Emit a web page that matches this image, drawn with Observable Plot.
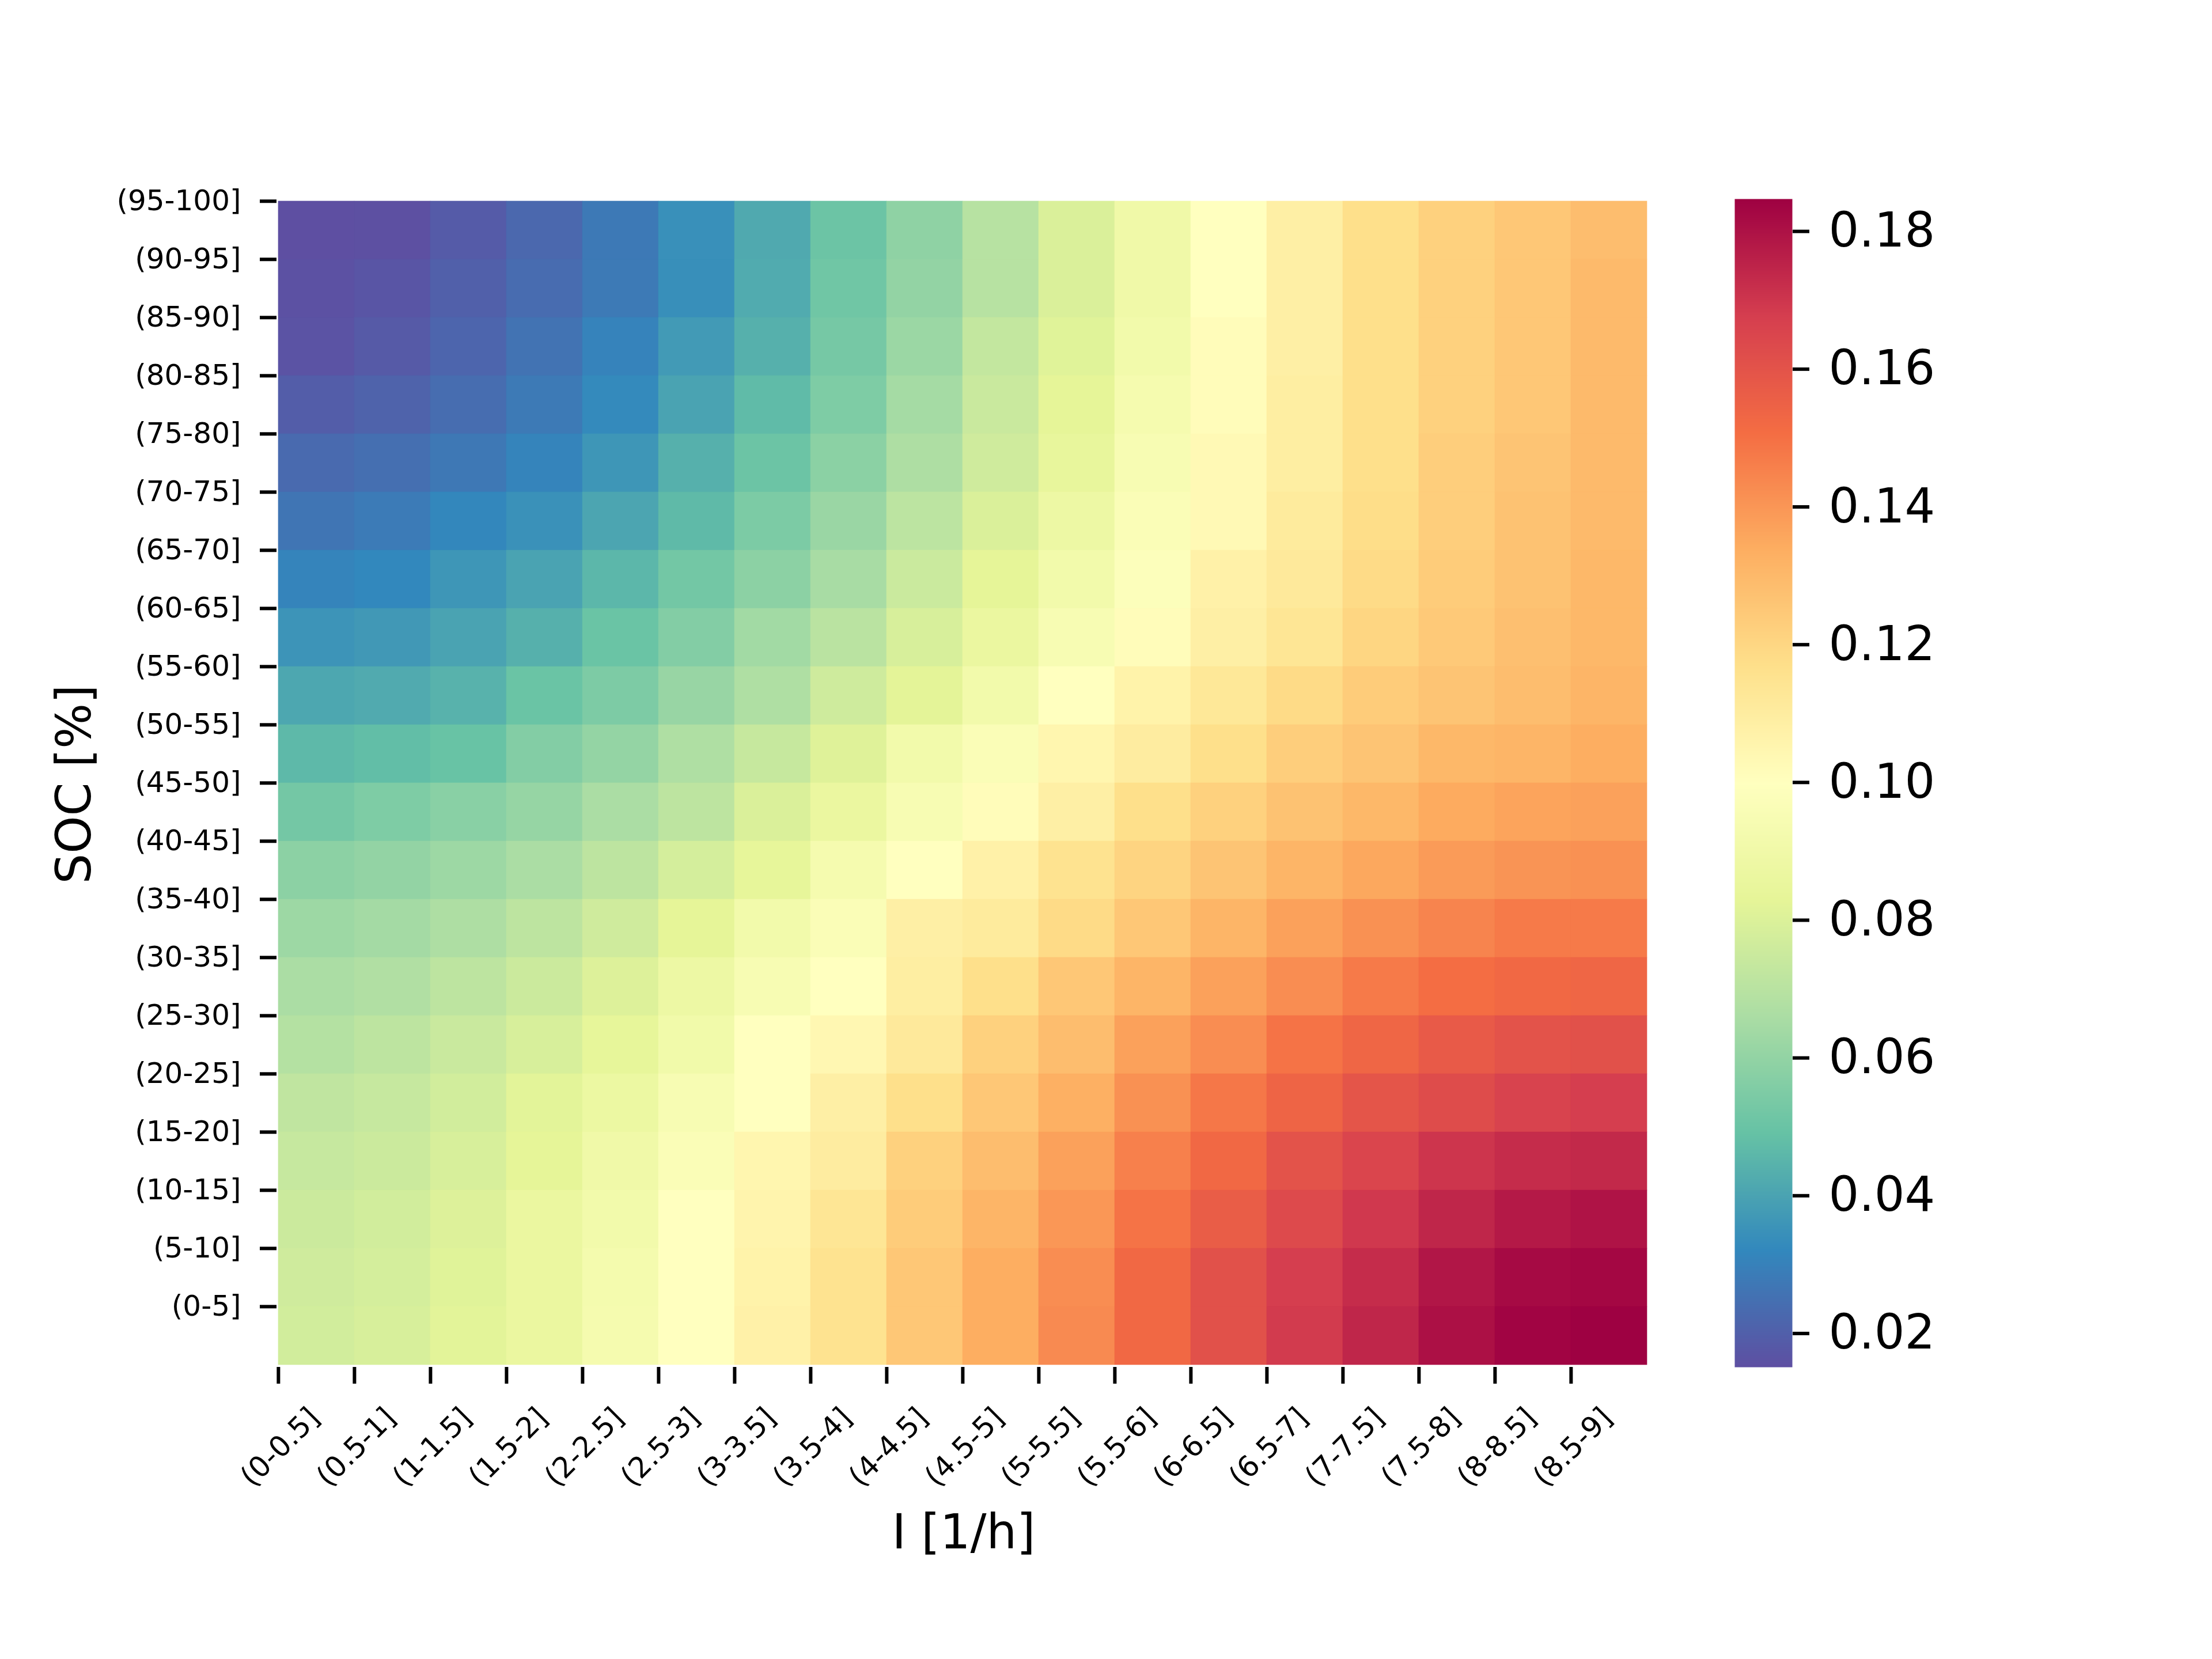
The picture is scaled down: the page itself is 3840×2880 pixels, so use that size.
<!DOCTYPE html>
<html>
<head>
<meta charset="utf-8">
<script src="https://cdn.jsdelivr.net/npm/d3@7"></script>
<script src="https://cdn.jsdelivr.net/npm/@observablehq/plot@0.6"></script>
<style>
html, body { margin: 0; padding: 0; background: #fff; }
#chart { position: relative; width: 3840px; height: 2880px; overflow: hidden; background: #fff; }
#chart svg { position: absolute; top: 0; }
</style>
</head>
<body>
<div id="chart"></div>
<script>
// ---- categories ----
const iLabels = ["(0-0.5]", "(0.5-1]", "(1-1.5]", "(1.5-2]", "(2-2.5]", "(2.5-3]", "(3-3.5]", "(3.5-4]", "(4-4.5]",
                 "(4.5-5]", "(5-5.5]", "(5.5-6]", "(6-6.5]", "(6.5-7]", "(7-7.5]", "(7.5-8]", "(8-8.5]", "(8.5-9]"];
const socLabels = ["(95-100]", "(90-95]", "(85-90]", "(80-85]", "(75-80]", "(70-75]", "(65-70]", "(60-65]", "(55-60]", "(50-55]",
                   "(45-50]", "(40-45]", "(35-40]", "(30-35]", "(25-30]", "(20-25]", "(15-20]", "(10-15]", "(5-10]", "(0-5]"];

// ---- values, one row per SOC bin (columns follow iLabels) ----
const soc_95_100 = [0.0151, 0.0154, 0.0187, 0.0226, 0.0277, 0.0344, 0.0417, 0.0505, 0.0590, 0.0694, 0.0795, 0.0897, 0.0999, 0.1084, 0.1169, 0.1220, 0.1253, 0.1287];
const soc_90_95  = [0.0158, 0.0170, 0.0202, 0.0237, 0.0278, 0.0341, 0.0422, 0.0516, 0.0600, 0.0694, 0.0795, 0.0897, 0.0999, 0.1084, 0.1169, 0.1220, 0.1253, 0.1296];
const soc_85_90  = [0.0163, 0.0183, 0.0217, 0.0258, 0.0305, 0.0373, 0.0438, 0.0529, 0.0621, 0.0728, 0.0812, 0.0914, 0.1016, 0.1084, 0.1169, 0.1220, 0.1253, 0.1296];
const soc_80_85  = [0.0193, 0.0210, 0.0241, 0.0278, 0.0326, 0.0400, 0.0470, 0.0550, 0.0645, 0.0745, 0.0829, 0.0931, 0.1016, 0.1092, 0.1169, 0.1220, 0.1253, 0.1296];
const soc_75_80  = [0.0231, 0.0246, 0.0273, 0.0309, 0.0361, 0.0438, 0.0505, 0.0582, 0.0667, 0.0762, 0.0846, 0.0948, 0.1033, 0.1092, 0.1169, 0.1228, 0.1262, 0.1296];
const soc_70_75  = [0.0265, 0.0282, 0.0317, 0.0348, 0.0405, 0.0466, 0.0544, 0.0617, 0.0709, 0.0795, 0.0880, 0.0965, 0.1033, 0.1109, 0.1177, 0.1228, 0.1270, 0.1296];
const soc_65_70  = [0.0309, 0.0321, 0.0361, 0.0400, 0.0458, 0.0522, 0.0583, 0.0653, 0.0750, 0.0829, 0.0914, 0.0982, 0.1075, 0.1118, 0.1186, 0.1236, 0.1270, 0.1304];
const soc_60_65  = [0.0356, 0.0368, 0.0400, 0.0438, 0.0500, 0.0561, 0.0638, 0.0702, 0.0787, 0.0863, 0.0948, 0.1016, 0.1084, 0.1135, 0.1203, 0.1245, 0.1279, 0.1304];
const soc_55_60  = [0.0410, 0.0421, 0.0443, 0.0500, 0.0546, 0.0612, 0.0672, 0.0760, 0.0824, 0.0914, 0.0999, 0.1067, 0.1126, 0.1186, 0.1236, 0.1262, 0.1287, 0.1313];
const soc_50_55  = [0.0465, 0.0478, 0.0495, 0.0561, 0.0604, 0.0672, 0.0738, 0.0809, 0.0914, 0.0965, 0.1050, 0.1101, 0.1169, 0.1228, 0.1262, 0.1304, 0.1313, 0.1338];
const soc_45_50  = [0.0524, 0.0550, 0.0575, 0.0609, 0.0660, 0.0711, 0.0795, 0.0863, 0.0948, 0.1016, 0.1084, 0.1169, 0.1220, 0.1270, 0.1304, 0.1347, 0.1364, 0.1372];
const soc_40_45  = [0.0583, 0.0600, 0.0626, 0.0660, 0.0711, 0.0779, 0.0838, 0.0931, 0.0999, 0.1075, 0.1152, 0.1211, 0.1262, 0.1313, 0.1355, 0.1389, 0.1406, 0.1415];
const soc_35_40  = [0.0626, 0.0643, 0.0668, 0.0711, 0.0762, 0.0829, 0.0914, 0.0965, 0.1084, 0.1109, 0.1186, 0.1253, 0.1313, 0.1372, 0.1415, 0.1448, 0.1474, 0.1474];
const soc_30_35  = [0.0660, 0.0677, 0.0711, 0.0753, 0.0804, 0.0880, 0.0948, 0.0999, 0.1092, 0.1169, 0.1253, 0.1313, 0.1372, 0.1423, 0.1474, 0.1508, 0.1525, 0.1533];
const soc_25_30  = [0.0685, 0.0711, 0.0745, 0.0787, 0.0838, 0.0906, 0.0999, 0.1041, 0.1118, 0.1220, 0.1287, 0.1372, 0.1423, 0.1491, 0.1533, 0.1576, 0.1601, 0.1610];
const soc_20_25  = [0.0719, 0.0736, 0.0770, 0.0821, 0.0872, 0.0948, 0.0999, 0.1084, 0.1169, 0.1253, 0.1330, 0.1415, 0.1482, 0.1542, 0.1593, 0.1627, 0.1660, 0.1677];
const soc_15_20  = [0.0736, 0.0753, 0.0787, 0.0829, 0.0897, 0.0965, 0.1050, 0.1101, 0.1220, 0.1287, 0.1372, 0.1457, 0.1525, 0.1601, 0.1652, 0.1703, 0.1728, 0.1737];
const soc_10_15  = [0.0753, 0.0770, 0.0804, 0.0863, 0.0914, 0.0999, 0.1058, 0.1135, 0.1236, 0.1313, 0.1398, 0.1491, 0.1567, 0.1635, 0.1694, 0.1745, 0.1779, 0.1796];
const soc_5_10   = [0.0762, 0.0779, 0.0812, 0.0863, 0.0923, 0.0999, 0.1067, 0.1152, 0.1253, 0.1338, 0.1423, 0.1525, 0.1610, 0.1677, 0.1728, 0.1788, 0.1822, 0.1830];
const soc_0_5    = [0.0770, 0.0787, 0.0821, 0.0863, 0.0931, 0.0999, 0.1075, 0.1152, 0.1253, 0.1338, 0.1431, 0.1525, 0.1610, 0.1686, 0.1745, 0.1805, 0.1839, 0.1847];

// ---- colour bar ----
const colorDomain = [0.0151, 0.1847];
const colorbarTicks = [0.02, 0.04, 0.06, 0.08, 0.10, 0.12, 0.14, 0.16, 0.18];
const spectralR = ["#5e4fa2", "#3288bd", "#66c2a5", "#abdda4", "#e6f598", "#ffffbf",
                   "#fee08b", "#fdae61", "#f46d43", "#d53e4f", "#9e0142"];

// ---- build table ----
const socRows = [soc_95_100, soc_90_95, soc_85_90, soc_80_85, soc_75_80, soc_70_75, soc_65_70, soc_60_65,
                 soc_55_60, soc_50_55, soc_45_50, soc_40_45, soc_35_40, soc_30_35, soc_25_30, soc_20_25,
                 soc_15_20, soc_10_15, soc_5_10, soc_0_5];
const table = socLabels.flatMap((s, r) => socRows[r].map((v, c) => ({SOC: s, I: iLabels[c], v})));

const W = 3840, H = 2880, mL = 480, mR = 979, mT = 345, mB = 507;
const cw = (W - mL - mR) / iLabels.length;
const ch = (H - mT - mB) / socLabels.length;
const stops = spectralR.map((_, i) => colorDomain[0] + i * (colorDomain[1] - colorDomain[0]) / (spectralR.length - 1));
const colorScale = {type: "linear", domain: stops, range: spectralR, interpolate: "rgb", clamp: true};
const font = {fontFamily: "DejaVu Sans", background: "transparent", color: "black"};

const main = Plot.plot({
  width: W, height: H,
  marginLeft: mL, marginRight: mR, marginTop: mT, marginBottom: mB,
  style: font,
  x: {type: "band", domain: iLabels, padding: 0},
  y: {type: "band", domain: socLabels, padding: 0},
  color: colorScale,
  marks: [
    Plot.cell(table, {x: "I", y: "SOC", fill: "v", stroke: "v", strokeWidth: 0.6, inset: 0}),
    Plot.axisY({tickSize: 29, tickPadding: 33, dy: -ch / 2, fontSize: 50, strokeWidth: 6, label: null}),
    Plot.axisX({tickSize: 29, dx: -cw / 2, strokeWidth: 6, tickFormat: () => "", label: null}),
    Plot.axisX({tickSize: 0, tickPadding: 139, dx: -cw / 2 + 3, tickRotate: -45,
                textAnchor: "middle", lineAnchor: "middle", fontSize: 50, label: null}),
    Plot.text(["SOC [%]"], {text: d => d, frameAnchor: "left", dx: -350, dy: 2, rotate: -90,
                            fontSize: 83, textAnchor: "middle", lineAnchor: "middle"}),
    Plot.text(["I [1/h]"], {text: d => d, frameAnchor: "bottom", dx: 2, dy: 288,
                            fontSize: 83, textAnchor: "middle", lineAnchor: "middle"})
  ]
});
main.style.left = "0px";

const cbLeft = 2960, cbW = 880;
const cb = Plot.plot({
  width: cbW, height: H,
  marginLeft: 51, marginRight: 729, marginTop: mT, marginBottom: mB,
  style: font,
  x: {domain: [0, 1], axis: null},
  y: {domain: colorDomain},
  color: colorScale,
  marks: [
    Plot.raster({fill: (x, y) => y, x1: 0, x2: 1, y1: colorDomain[0], y2: colorDomain[1], width: 4, height: 1200}),
    Plot.axisY(colorbarTicks, {anchor: "right", tickSize: 29, tickPadding: 34, fontSize: 83, strokeWidth: 6,
                               tickFormat: d => d.toFixed(2), label: null})
  ]
});
cb.style.left = cbLeft + "px";

const chart = document.getElementById("chart");
chart.appendChild(main);
chart.appendChild(cb);
</script>
</body>
</html>
